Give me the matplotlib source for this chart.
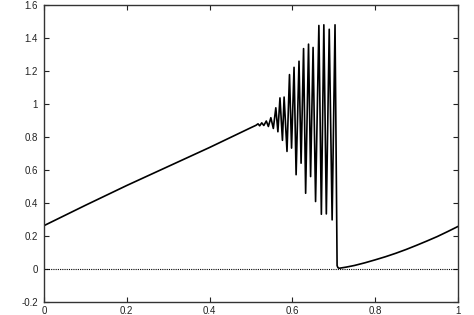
import matplotlib
matplotlib.use("Agg")
import matplotlib.pyplot as plt

# smooth rising part before the wiggles
ramp_x = [0.0, 0.1, 0.2, 0.3, 0.4, 0.5, 0.512]
ramp_y = [0.262, 0.385, 0.505, 0.62, 0.735, 0.855, 0.869]

# turning points of the oscillating part (peak, trough, peak, ...)
osc_x = [0.517, 0.521, 0.526, 0.531, 0.537, 0.542, 0.548, 0.554, 0.560, 0.565,
         0.570, 0.576, 0.580, 0.587, 0.593, 0.598, 0.604, 0.609, 0.616, 0.621,
         0.627, 0.632, 0.639, 0.644, 0.650, 0.656, 0.664, 0.670, 0.676, 0.682,
         0.689, 0.696, 0.703]
osc_y = [0.878, 0.866, 0.884, 0.868, 0.895, 0.862, 0.915, 0.850, 0.975, 0.830,
         1.035, 0.778, 1.040, 0.711, 1.176, 0.731, 1.220, 0.570, 1.257, 0.640,
         1.333, 0.458, 1.360, 0.559, 1.340, 0.408, 1.473, 0.331, 1.477, 0.333,
         1.450, 0.297, 1.477]

# after the jump
tail_x = [0.708, 0.710, 0.713, 0.73, 0.75, 0.775, 0.80, 0.825, 0.85, 0.875,
          0.90, 0.925, 0.95, 0.975, 1.0]
tail_y = [0.020, 0.008, 0.004, 0.011, 0.021, 0.037, 0.055, 0.074, 0.095, 0.118,
          0.143, 0.169, 0.196, 0.226, 0.257]

x = ramp_x + osc_x + tail_x
y = ramp_y + osc_y + tail_y

plt.rcParams['font.family'] = ['Liberation Sans', 'DejaVu Sans']

fig = plt.figure(figsize=(4.74, 3.15), dpi=100)
ax = fig.add_axes([0.0928, 0.0413, 0.8734, 0.9444])

ax.plot(x, y, color='black', lw=1.2)
ax.axhline(0, color='black', lw=0.8, linestyle=(0, (1, 1)))

ax.set_xlim(0, 1)
ax.set_ylim(-0.2, 1.6)
ax.set_xticks([0, 0.2, 0.4, 0.6, 0.8, 1])
ax.set_xticklabels(['0', '0.2', '0.4', '0.6', '0.8', '1'])
ax.set_yticks([-0.2, 0, 0.2, 0.4, 0.6, 0.8, 1, 1.2, 1.4, 1.6])
ax.set_yticklabels(['-0.2', '0', '0.2', '0.4', '0.6', '0.8', '1', '1.2', '1.4', '1.6'])

ax.tick_params(direction='in', length=3.5, width=0.8, top=True, right=True,
               labelsize=7, colors='#222222')
ax.tick_params(axis='x', pad=3)
ax.tick_params(axis='y', pad=4.5)
for s in ax.spines.values():
    s.set_color('#333333')
    s.set_linewidth(1.0)

fig.savefig('out.png', dpi=100)
